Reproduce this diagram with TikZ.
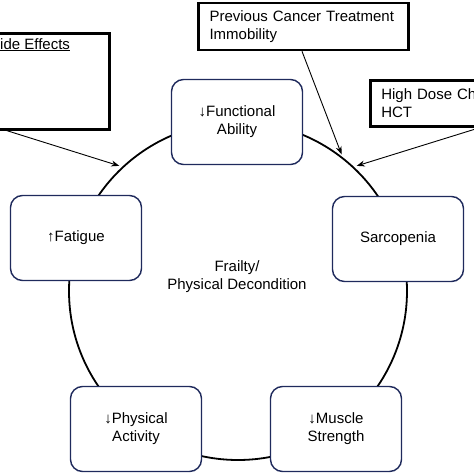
\documentclass[tikz,border=0pt]{standalone}
\usepackage{fontspec}
\setmainfont{Liberation Sans}
\usetikzlibrary{arrows.meta}
\definecolor{navyline}{HTML}{1F2A5C}

\begin{document}
\begin{tikzpicture}[
  x=1pt,
  y=-1pt,
  basefont/.style={font=\fontsize{15}{18}\selectfont},
  loopbox/.style={
    basefont,
    draw=navyline,
    line width=1.4pt,
    rounded corners=12pt,
    fill=white,
    minimum width=131pt,
    minimum height=85pt,
    align=center
  },
  factorbox/.style={
    basefont,
    draw=black,
    line width=2.6pt,
    fill=white,
    align=left,
    inner xsep=11pt
  },
  feeds/.style={
    line width=0.9pt,
    shorten >=3pt,
    -{Stealth[length=8pt,width=6pt]}
  }
]

% Canvas, square
\path[use as bounding box] (0,0) rectangle (474,474);
\clip (0,0) rectangle (474,474);

% Vicious cycle
\node[draw, circle, line width=1.8pt, minimum size=338pt, inner sep=0pt] (cycle) at (238,291) {};

\node[basefont, align=center] (frailty) at (237,277)
  {Frailty/\\Physical Decondition};

% Boxes on the cycle
\node[loopbox] (function) at (237,122) {↓Functional\\Ability};
\node[loopbox] (fatigue) at (76,238) {↑Fatigue};
\node[loopbox] (sarcopenia) at (398,239) {Sarcopenia};
\node[loopbox] (activity) at (136,429) {↓Physical\\Activity};
\node[loopbox] (strength) at (336,429) {↓Muscle\\Strength};

% Outside factors
\node[factorbox, anchor=north east, minimum width=132pt, minimum height=96pt] (sidefx) at (111,32) {};
\node[basefont, anchor=north west, inner sep=0pt] (sidefxtext) at (0,38)
  {\underline{ide Effects}};

\node[factorbox, minimum height=47pt, text width=188pt] (previous) at (303.5,26.5)
  {Previous Cancer Treatment\\Immobility};

\node[factorbox, anchor=north west, minimum height=46pt, text width=140pt] (highdose) at (369,79)
  {High Dose Ch\\HCT};

% Influences on the cycle
\draw[feeds] ([xshift=-37pt]sidefx.south) -- (cycle.133);
\draw[feeds] ([xshift=-1.5pt]previous.south) -- (cycle.52);
\draw[feeds] ([xshift=111pt]highdose.south west) -- (cycle.47);

\end{tikzpicture}
\end{document}
